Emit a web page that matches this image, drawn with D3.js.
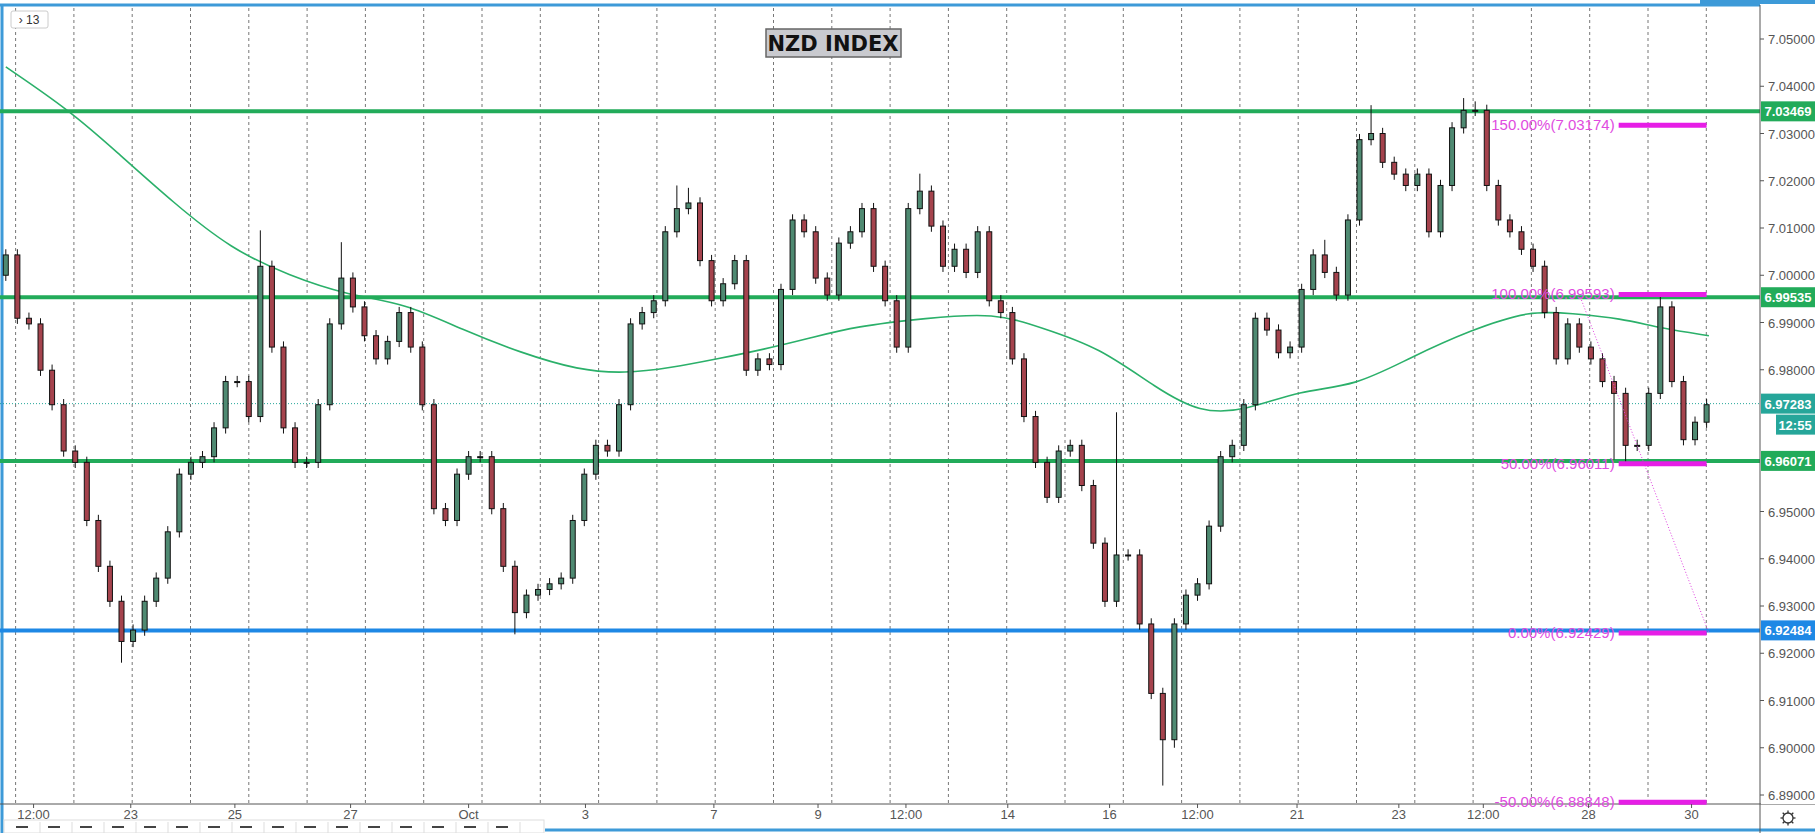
<!DOCTYPE html>
<html>
<head>
<meta charset="utf-8">
<script src="https://cdn.jsdelivr.net/npm/d3@7"></script>
<style>
  body { margin: 0; background: #fff; overflow: hidden; }
  svg { display: block; font-family: "Liberation Sans", Arial, sans-serif; }
</style>
</head>
<body>
<svg id="chart" width="1815" height="833"></svg>
<script>
// closes, one per bar (first open below)
var FIRST_OPEN = 7.0000;
var closes = [
  7.0043, 6.9909, 6.9897, 6.9799, 6.9726, 6.9628, 6.9604, 6.9481, 6.9384, 6.9310,
  6.9225, 6.9249, 6.9310, 6.9359, 6.9457, 6.9579, 6.9604, 6.9616, 6.9677, 6.9775,
  6.9775, 6.9701, 7.0019, 6.9848, 6.9677, 6.9604, 6.9604, 6.9726, 6.9897, 6.9994,
  6.9933, 6.9872, 6.9823, 6.9860, 6.9921, 6.9848, 6.9726, 6.9506, 6.9481, 6.9579,
  6.9616, 6.9616, 6.9506, 6.9384, 6.9286, 6.9323, 6.9335, 6.9347, 6.9359, 6.9481,
  6.9579, 6.9640, 6.9628, 6.9726, 6.9897, 6.9921, 6.9946, 7.0092, 7.0141, 7.0153,
  7.0031, 6.9946, 6.9982, 7.0031, 6.9799, 6.9823, 6.9811, 6.9970, 7.0117, 7.0092,
  6.9994, 6.9958, 7.0068, 7.0092, 7.0141, 7.0019, 6.9946, 6.9848, 7.0141, 7.0178,
  7.0104, 7.0019, 7.0055, 7.0006, 7.0092, 6.9946, 6.9921, 6.9823, 6.9701, 6.9604,
  6.9530, 6.9628, 6.9640, 6.9555, 6.9433, 6.9310, 6.9408, 6.9408, 6.9262, 6.9115,
  6.9017, 6.9262, 6.9323, 6.9347, 6.9469, 6.9616, 6.9640, 6.9726, 6.9909, 6.9884,
  6.9836, 6.9848, 6.9970, 7.0043, 7.0006, 6.9958, 7.0117, 7.0287, 7.0300, 7.0239,
  7.0214, 7.0190, 7.0214, 7.0092, 7.0190, 7.0312, 7.0349, 7.0349, 7.0190, 7.0117,
  7.0092, 7.0055, 7.0019, 6.9921, 6.9823, 6.9897, 6.9848, 6.9823, 6.9775, 6.9750,
  6.9640, 6.9640, 6.9750, 6.9933, 6.9775, 6.9652, 6.9689, 6.9726
];
var WICK = 0.0012;
// bars whose wicks reach further than the usual wick
var spikeHighs = [[22, 7.0095], [29, 7.0070], [58, 7.0190], [59, 7.0185], [79, 7.0215], [96, 6.9710],
  [118, 7.0360], [126, 7.0375], [127, 7.0368], [143, 6.9960], [114, 7.0075]];
var spikeLows = [[10, 6.9180], [44, 6.9240], [100, 6.8920], [101, 6.9000], [140, 6.9600], [139, 6.9610]];

// moving average [bar, value]
var maPoints = [
  [0, 7.0441], [5.5, 7.0349], [9.5, 7.0263], [14.5, 7.0153], [19.5, 7.0055], [24.5, 6.9999],
  [29.5, 6.9958], [34.5, 6.9941], [39.5, 6.9884], [44.5, 6.9836], [49.5, 6.9799], [53.5, 6.9792],
  [57.5, 6.9804], [61.5, 6.9823], [65.5, 6.9843], [69.5, 6.9867], [73.5, 6.9892], [79.5, 6.9909],
  [85.5, 6.9921], [89.5, 6.9889], [94.5, 6.9848], [99.5, 6.9760], [103.2, 6.9709], [107, 6.9712],
  [111.9, 6.9757], [116.6, 6.9765], [121.4, 6.9826], [126.6, 6.9884], [131.8, 6.9926],
  [135.3, 6.9919], [139.6, 6.9909], [143, 6.9888], [147.2, 6.9872]
];

var levels = [
  { v: 7.03469, color: "#22ab5a" },
  { v: 6.99535, color: "#22ab5a" },
  { v: 6.96071, color: "#22ab5a" },
  { v: 6.92484, color: "#1e88e5" }
];
var lastPrice = 6.97283;

var fibLevels = [
  { v: 7.03174, label: "150.00%(7.03174)" },
  { v: 6.99593, label: "100.00%(6.99593)" },
  { v: 6.96011, label: "50.00%(6.96011)" },
  { v: 6.92429, label: "0.00%(6.92429)" },
  { v: 6.88848, label: "-50.00%(6.88848)" }
];
var fibStart = 139.4, fibEnd = 147;
var fibDiag = [[136, 6.99593], [147.2, 6.92429]];

var dateTicks = [
  [2.4, "12:00"], [10.8, "23"], [19.8, "25"], [29.8, "27"], [40, "Oct"], [50.1, "3"],
  [61.2, "7"], [70.2, "9"], [77.8, "12:00"], [86.6, "14"], [95.4, "16"], [103, "12:00"],
  [111.6, "21"], [120.4, "23"], [127.7, "12:00"], [136.8, "28"], [145.7, "30"]
];
// 6.96 and 6.97 sit under the price tags
var priceTicks = [7.05, 7.04, 7.03, 7.02, 7.01, 7.00, 6.99, 6.98, 6.95, 6.94, 6.93, 6.92, 6.91, 6.90, 6.89];

var W = 1815, H = 833, PLOT_R = 1760, AXIS_Y = 804;

var svg = d3.select("#chart");
var x = d3.scaleLinear().domain([0, 147]).range([5.8, 1706.6]);
var y = d3.scaleLinear().domain([6.89, 7.05]).range([795, 39]);

// vertical grid
var grid = svg.append("g");
d3.range(30).forEach(function(k) {
  var gx = 15.6 + 58.3 * k;
  grid.append("line").attr("x1", gx).attr("x2", gx).attr("y1", 8).attr("y2", AXIS_Y)
    .attr("stroke", "#777").attr("stroke-width", 1).attr("stroke-dasharray", "3,3");
});

// frame lines
svg.append("line").attr("x1", 0).attr("x2", PLOT_R).attr("y1", 5).attr("y2", 5).attr("stroke", "#3d9ad8").attr("stroke-width", 3);
svg.append("line").attr("x1", 2).attr("x2", 2).attr("y1", 5).attr("y2", 833).attr("stroke", "#3d9ad8").attr("stroke-width", 3);
svg.append("line").attr("x1", 0).attr("x2", W).attr("y1", AXIS_Y).attr("y2", AXIS_Y).attr("stroke", "#555");

// moving average
svg.append("path").datum(maPoints)
  .attr("d", d3.line().curve(d3.curveBasis).x(function(d) { return x(d[0]); }).y(function(d) { return y(d[1]); }))
  .attr("fill", "none").attr("stroke", "#2bb06a").attr("stroke-width", 1.6);

// horizontal levels
levels.forEach(function(l) {
  svg.append("line").attr("x1", 0).attr("x2", PLOT_R).attr("y1", y(l.v)).attr("y2", y(l.v))
    .attr("stroke", l.color).attr("stroke-width", 4);
});
svg.append("line").attr("x1", 0).attr("x2", PLOT_R).attr("y1", y(lastPrice)).attr("y2", y(lastPrice))
  .attr("stroke", "#26a69a").attr("stroke-width", 1).attr("stroke-dasharray", "1,2");

// candles
var hiMap = new Map(spikeHighs), loMap = new Map(spikeLows);
var bars = closes.map(function(c, i) {
  var o = i === 0 ? FIRST_OPEN : closes[i - 1];
  var h = Math.max(o, c) + WICK, l = Math.min(o, c) - WICK;
  if (hiMap.has(i)) h = Math.max(h, hiMap.get(i));
  if (loMap.has(i)) l = Math.min(l, loMap.get(i));
  return { i: i, o: o, c: c, h: h, l: l };
});
var cw = 5;
var cg = svg.append("g").selectAll("g").data(bars).join("g");
cg.append("line").attr("x1", function(d) { return x(d.i); }).attr("x2", function(d) { return x(d.i); })
  .attr("y1", function(d) { return y(d.h); }).attr("y2", function(d) { return y(d.l); })
  .attr("stroke", "#111").attr("stroke-width", 1);
cg.append("rect")
  .attr("x", function(d) { return x(d.i) - cw / 2; })
  .attr("y", function(d) { return y(Math.max(d.o, d.c)); })
  .attr("width", cw)
  .attr("height", function(d) { return Math.max(1, Math.abs(y(d.o) - y(d.c))); })
  .attr("fill", function(d) { return d.c >= d.o ? "#4f8a72" : "#a5434d"; })
  .attr("stroke", "#111").attr("stroke-width", 1);

// fibonacci
svg.append("line").attr("x1", x(fibDiag[0][0])).attr("y1", y(fibDiag[0][1]))
  .attr("x2", x(fibDiag[1][0])).attr("y2", y(fibDiag[1][1]))
  .attr("stroke", "#e040e0").attr("stroke-width", 1).attr("stroke-dasharray", "1,2");
fibLevels.forEach(function(f) {
  svg.append("line").attr("x1", x(fibStart)).attr("x2", x(fibEnd)).attr("y1", y(f.v)).attr("y2", y(f.v))
    .attr("stroke", "#e61ee6").attr("stroke-width", 5);
  svg.append("text").attr("x", x(fibStart) - 4).attr("y", y(f.v) + 5).attr("text-anchor", "end")
    .attr("font-size", 15).attr("fill", "#e04be0").text(f.label);
});

// bottom toolbar
svg.append("rect").attr("x", 4).attr("y", 820).attr("width", 540).attr("height", 13).attr("fill", "#fff").attr("stroke", "#ddd");
d3.range(16).forEach(function(k) {
  svg.append("line").attr("x1", 40 + k * 32).attr("x2", 40 + k * 32).attr("y1", 822).attr("y2", 833).attr("stroke", "#ddd");
  svg.append("rect").attr("x", 16 + k * 32).attr("y", 826).attr("width", 12).attr("height", 2).attr("fill", "#444");
});
svg.append("line").attr("x1", 545).attr("x2", W).attr("y1", 830).attr("y2", 830).attr("stroke", "#3d9ad8").attr("stroke-width", 3);

// date axis
dateTicks.forEach(function(t) {
  svg.append("line").attr("x1", x(t[0])).attr("x2", x(t[0])).attr("y1", AXIS_Y).attr("y2", AXIS_Y + 4).attr("stroke", "#555");
  svg.append("text").attr("x", x(t[0])).attr("y", AXIS_Y + 15).attr("text-anchor", "middle")
    .attr("font-size", 13).attr("fill", "#555").text(t[1]);
});

// price axis
svg.append("rect").attr("x", PLOT_R + 1).attr("y", 0).attr("width", 60).attr("height", AXIS_Y).attr("fill", "#fff");
svg.append("rect").attr("x", 1700).attr("y", 0).attr("width", 115).attr("height", 4).attr("fill", "#3d9ad8");
svg.append("line").attr("x1", PLOT_R).attr("x2", PLOT_R).attr("y1", 5).attr("y2", 833).attr("stroke", "#555");
priceTicks.forEach(function(v) {
  svg.append("line").attr("x1", PLOT_R).attr("x2", PLOT_R + 4).attr("y1", y(v)).attr("y2", y(v)).attr("stroke", "#555");
  svg.append("text").attr("x", PLOT_R + 8).attr("y", y(v) + 5).attr("font-size", 13).attr("fill", "#555")
    .text(d3.format(".5f")(v));
});
function tag(v, color, txt) {
  svg.append("rect").attr("x", PLOT_R + 1).attr("y", y(v) - 10).attr("width", 54).attr("height", 20).attr("fill", color);
  svg.append("text").attr("x", PLOT_R + 28).attr("y", y(v) + 5).attr("text-anchor", "middle")
    .attr("font-size", 13).attr("font-weight", "bold").attr("fill", "#fff").text(txt);
}
levels.forEach(function(l) { tag(l.v, l.color, d3.format(".5f")(l.v)); });
tag(lastPrice, "#26a69a", d3.format(".5f")(lastPrice));
svg.append("rect").attr("x", 1776).attr("y", y(lastPrice) + 11).attr("width", 39).attr("height", 20).attr("fill", "#26a69a");
svg.append("text").attr("x", 1795).attr("y", y(lastPrice) + 26).attr("text-anchor", "middle")
  .attr("font-size", 13).attr("font-weight", "bold").attr("fill", "#fff").text("12:55");

// gear
var gear = svg.append("g").attr("transform", "translate(1788,818)");
gear.append("circle").attr("r", 5).attr("fill", "none").attr("stroke", "#333").attr("stroke-width", 1.3);
d3.range(8).forEach(function(k) {
  var a = k * Math.PI / 4;
  gear.append("line").attr("x1", Math.cos(a) * 5).attr("y1", Math.sin(a) * 5)
    .attr("x2", Math.cos(a) * 7.5).attr("y2", Math.sin(a) * 7.5).attr("stroke", "#333").attr("stroke-width", 1.3);
});

// title and interval box
svg.append("rect").attr("x", 766).attr("y", 29).attr("width", 135).attr("height", 28)
  .attr("fill", "#c9cacf").attr("stroke", "#666").attr("stroke-width", 1.5);
svg.append("text").attr("x", 833).attr("y", 51).attr("text-anchor", "middle").attr("font-size", 21)
  .attr("font-weight", "bold").attr("font-family", "DejaVu Sans").attr("fill", "#111").text("NZD INDEX");
svg.append("rect").attr("x", 11).attr("y", 11).attr("width", 37).attr("height", 17).attr("rx", 2)
  .attr("fill", "#fff").attr("stroke", "#ccc");
svg.append("text").attr("x", 29).attr("y", 24).attr("text-anchor", "middle").attr("font-size", 12)
  .attr("fill", "#333").text("› 13");
</script>
</body>
</html>
